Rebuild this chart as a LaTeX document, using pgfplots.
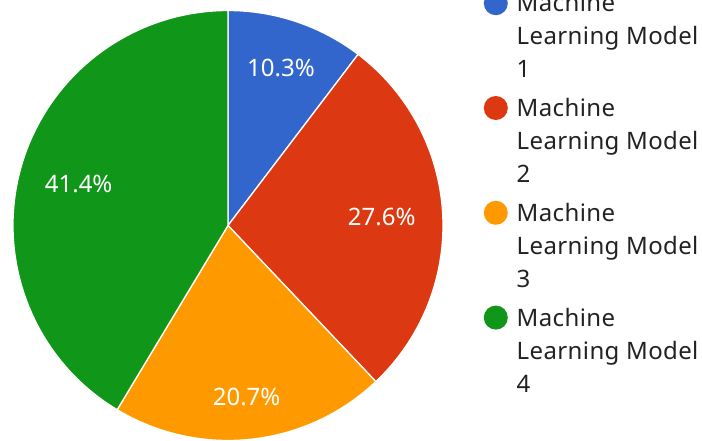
\documentclass[border=0pt]{standalone}
\usepackage{pgfplots}
\usepackage{pgfplotstable}
\pgfplotsset{compat=1.18}
\usepackage{fontspec}
\setmainfont{Noto Sans}
\newfontfamily\legfont[LetterSpace=1.6]{Noto Sans}
\definecolor{pie0}{HTML}{3366CC}
\definecolor{pie1}{HTML}{DC3912}
\definecolor{pie2}{HTML}{FF9900}
\definecolor{pie3}{HTML}{109618}
\definecolor{legtext}{HTML}{222222}

% value = slice size; labelr = distance of the percentage label from the centre
\pgfplotstableread{
model value labelr
1 3 166
2 8 154
3 6 172
4 12 155
}\piedata

\begin{document}
\begin{tikzpicture}[font=\fontsize{24}{33}\selectfont]
\path[use as bounding box] (0,0) rectangle (702pt,440pt);
% ---- precompute angles from the table
\gdef\pietotal{0}
\gdef\piecum{0}
\pgfplotstablegetrowsof{\piedata}
\pgfmathtruncatemacro\pierows{\pgfplotsretval-1}
\foreach \i in {0,...,\pierows}{
  \pgfplotstablegetelem{\i}{value}\of\piedata
  \pgfmathsetmacro\tmp{\pietotal+\pgfplotsretval}
  \global\let\pietotal\tmp
}
\foreach \i in {0,...,\pierows}{
  \pgfplotstablegetelem{\i}{value}\of\piedata \let\pieval\pgfplotsretval
  \pgfplotstablegetelem{\i}{labelr}\of\piedata \let\pielr\pgfplotsretval
  \pgfplotstablegetelem{\i}{model}\of\piedata \let\piemodel\pgfplotsretval
  \pgfmathsetmacro\sa{90-360*\piecum/\pietotal}
  \pgfmathsetmacro\ea{90-360*(\piecum+\pieval)/\pietotal}
  \pgfmathsetmacro\ma{(\sa+\ea)/2}
  \pgfmathsetmacro\pct{100*\pieval/\pietotal}
  \pgfmathsetmacro\newcum{\piecum+\pieval}
  \expandafter\xdef\csname pieS\i\endcsname{\sa}
  \expandafter\xdef\csname pieE\i\endcsname{\ea}
  \expandafter\xdef\csname pieM\i\endcsname{\ma}
  \expandafter\xdef\csname pieP\i\endcsname{\pct}
  \expandafter\xdef\csname pieR\i\endcsname{\pielr}
  \expandafter\xdef\csname pieN\i\endcsname{\piemodel}
  \global\let\piecum\newcum
}
\begin{axis}[at={(0,0)}, anchor=south west, scale only axis,
  width=702pt, height=440pt, xmin=0, xmax=702, ymin=0, ymax=440,
  hide axis, clip=true]
\pgfplotsinvokeforeach{0,...,3}{
  \fill[pie#1, draw=white, line width=1.3pt, line join=round]
    (axis cs:228,214.5) -- ++(\csname pieS#1\endcsname:215pt)
    arc[start angle=\csname pieS#1\endcsname, end angle=\csname pieE#1\endcsname, radius=215pt] -- cycle;
}
\pgfplotsinvokeforeach{0,...,3}{
  \path (axis cs:228,214.5) ++(\csname pieM#1\endcsname:\csname pieR#1\endcsname pt)
    node[white, inner sep=0pt] {\pgfmathprintnumber[fixed,precision=1,fixed zerofill,assume math mode=true]{\csname pieP#1\endcsname}\%};
}
% legend
\pgfplotsinvokeforeach{0,...,3}{
  \fill[pie#1] (axis cs:495.8,{440-(12+104.8*#1)+8.8}) circle[radius=12pt];
  \node[anchor=base west, inner sep=0pt, text=legtext, font=\legfont\fontsize{24}{33}\selectfont] at (axis cs:516.5,{440-(12+104.8*#1)}) {Machine};
  \node[anchor=base west, inner sep=0pt, text=legtext, font=\legfont\fontsize{24}{33}\selectfont] at (axis cs:516.5,{440-(12+104.8*#1)-33}) {Learning Model};
  \node[anchor=base west, inner sep=0pt, text=legtext, font=\legfont\fontsize{24}{33}\selectfont] at (axis cs:516.5,{440-(12+104.8*#1)-66}) {\csname pieN#1\endcsname};
}
\end{axis}
\end{tikzpicture}
\end{document}
